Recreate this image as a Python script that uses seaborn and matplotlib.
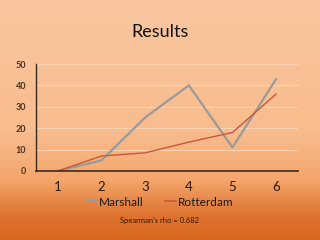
import numpy as np
import pandas as pd
import matplotlib
matplotlib.use("Agg")
import matplotlib.pyplot as plt
from matplotlib.colors import LinearSegmentedColormap
from matplotlib.lines import Line2D
import seaborn as sns

x_values = [1, 2, 3, 4, 5, 6]
marshall = [0, 5, 25, 40, 11, 43]
rotterdam = [0, 7, 8.5, 13.5, 18, 36]
series_names = ["Marshall", "Rotterdam"]
y_ticks = [0, 10, 20, 30, 40, 50]

df = pd.DataFrame({
    "x": x_values * 2,
    "y": marshall + rotterdam,
    "series": [series_names[0]] * 6 + [series_names[1]] * 6,
})

sns.set_style("white")
plt.rcParams["font.family"] = ["Lato", "DejaVu Sans"]

fig = plt.figure(figsize=(3.2, 2.4), dpi=100)

# background gradient
bg = fig.add_axes([0, 0, 1, 1], zorder=-10)
cmap = LinearSegmentedColormap.from_list(
    "bg",
    [(0.0, "#F9C6A0"), (0.55, "#F8BC8D"), (0.75, "#F4A66C"), (0.9, "#DE7330"), (1.0, "#D9681F")],
)
grad = np.linspace(0, 1, 240).reshape(-1, 1)
bg.imshow(grad, aspect="auto", cmap=cmap, extent=[0, 1, 0, 1], origin="upper")
bg.axis("off")

ax = fig.add_axes([36 / 320, 69 / 240, 262 / 320, 107 / 240])
ax.patch.set_alpha(0)
sns.lineplot(
    data=df, x="x", y="y", hue="series", ax=ax,
    palette={"Marshall": "#9A9A9A", "Rotterdam": "#C8583A"},
    legend=False,
)
lines = ax.get_lines()
lines[0].set_linewidth(1.6)
lines[1].set_linewidth(1.0)

ax.set_xlim(0.5, 6.5)
ax.set_ylim(0, 50)
ax.set_yticks(y_ticks)
ax.set_xticks(x_values)
ax.set_xlabel("")
ax.set_ylabel("")
for t in y_ticks[1:]:
    ax.axhline(t, color="#FCD3B4", linewidth=0.8, zorder=0)
for s in ["top", "right"]:
    ax.spines[s].set_visible(False)
ax.spines["left"].set_color("#3A2A1E")
ax.spines["bottom"].set_color("#3A2A1E")
ax.spines["left"].set_linewidth(1.0)
ax.spines["bottom"].set_linewidth(1.2)
ax.tick_params(axis="y", labelsize=6.5, colors="#4A3020", length=0, pad=7)
ax.tick_params(axis="x", labelsize=9.5, colors="#2A1A10", length=0, pad=7)
for lab in ax.get_yticklabels():
    lab.set_fontweight("bold")

fig.text(0.5, 1 - 32 / 240, "Results", ha="center", va="center", fontsize=13, color="#111111")

handles = [Line2D([], [], color="#9A9A9A", lw=1.6), Line2D([], [], color="#C8583A", lw=1.2)]
fig.legend(handles, series_names, loc="center", bbox_to_anchor=(0.5, 1 - 202 / 240),
           ncol=2, frameon=False, fontsize=8.5, handlelength=0.9, handletextpad=0.15,
           columnspacing=1.8, labelcolor="#1A1A1A")

fig.text(0.5, 1 - 221 / 240, "Spearman's rho = 0.682", ha="center", va="center",
         fontsize=5.5, color="#2A1A10")

fig.savefig("out.png", dpi=100)
